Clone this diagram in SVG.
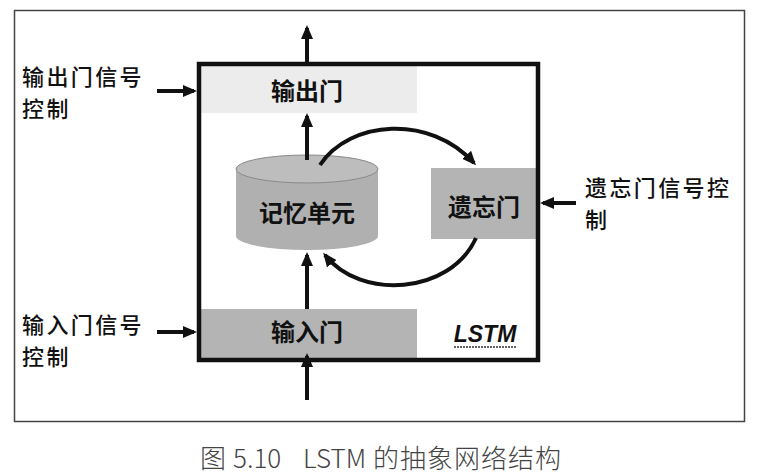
<svg xmlns="http://www.w3.org/2000/svg" width="761" height="476" viewBox="0 0 761 476">
<defs>
<marker id="ah" viewBox="0 0 14 12" refX="11" refY="6" markerWidth="14" markerHeight="12" markerUnits="userSpaceOnUse" orient="auto">
<path d="M0,0 L14,6 L0,12 z" fill="#111"/>
</marker>
<style>
.lbl{font-family:"Noto Sans CJK SC","Noto Sans",sans-serif;font-size:22px;letter-spacing:2.4px;font-weight:500;fill:#111}
.in{font-family:"Noto Sans CJK SC","Noto Sans",sans-serif;font-size:24px;font-weight:700;fill:#111;text-anchor:middle}
.ar{stroke:#111;stroke-width:4;fill:none;marker-end:url(#ah)}
.gate{fill:#b4b4b4}
.cap{font-family:"Noto Sans CJK SC","Noto Sans",sans-serif;font-size:26px;font-weight:300;fill:#444}
</style>
</defs>
<rect width="761" height="476" fill="#fff"/>
<rect x="14.5" y="10.5" width="730" height="411" fill="none" stroke="#444" stroke-width="1.5"/>

<g id="output-gate">
<rect x="200" y="65" width="217" height="48" fill="#ececec"/>
<text class="in" x="307" y="100">输出门</text>
</g>
<g id="input-gate">
<rect x="200" y="309" width="217" height="50" class="gate"/>
<text class="in" x="307" y="341">输入门</text>
</g>
<g id="forget-gate">
<rect x="431" y="168" width="106" height="71" class="gate"/>
<text class="in" x="484" y="216">遗忘门</text>
</g>
<g id="memory-cell">
<path d="M236,169 L236,236 A71,14 0 0 0 378,236 L378,169 Z" fill="#b0b0b0"/>
<ellipse cx="307" cy="169" rx="71" ry="14" fill="#bdbdbd" stroke="#8a8a8a" stroke-width="1"/>
<text class="in" x="307" y="222">记忆单元</text>
</g>
<g id="lstm-box">
<rect x="199" y="64" width="339" height="296" fill="none" stroke="#111" stroke-width="4.5"/>
<text x="485" y="342" text-anchor="middle" font-family="Liberation Sans, sans-serif" font-size="23" font-weight="700" font-style="italic" fill="#111">LSTM</text>
<line x1="454" y1="347" x2="516" y2="347" stroke="#333" stroke-width="1.5" stroke-dasharray="2 1"/>
</g>
<g id="labels">
<text class="lbl"><tspan x="22" y="85">输出门信号</tspan><tspan x="22" y="117">控制</tspan></text>
<text class="lbl"><tspan x="22" y="333">输入门信号</tspan><tspan x="22" y="365">控制</tspan></text>
<text class="lbl"><tspan x="585" y="196">遗忘门信号控</tspan><tspan x="585" y="228">制</tspan></text>
</g>
<g id="caption">
<text class="cap" y="468"><tspan x="200">图</tspan><tspan x="233">5.10</tspan><tspan x="303">LSTM</tspan><tspan x="373" letter-spacing="1">的抽象网络结构</tspan></text>
</g>
<g id="connectors">
<line class="ar" x1="307" y1="62" x2="307" y2="28"/>
<line class="ar" x1="307" y1="160" x2="307" y2="116"/>
<line class="ar" x1="307" y1="309" x2="307" y2="255"/>
<line class="ar" x1="307" y1="400" x2="307" y2="356"/>
<line class="ar" x1="157" y1="91" x2="194" y2="91"/>
<line class="ar" x1="157" y1="332" x2="194" y2="332"/>
<line class="ar" x1="576" y1="203" x2="543" y2="203"/>
<path class="ar" d="M320,165 C350,120 430,114 474,163"/>
<path class="ar" d="M476,238 C450,295 360,300 325,255"/>
</g>
</svg>
